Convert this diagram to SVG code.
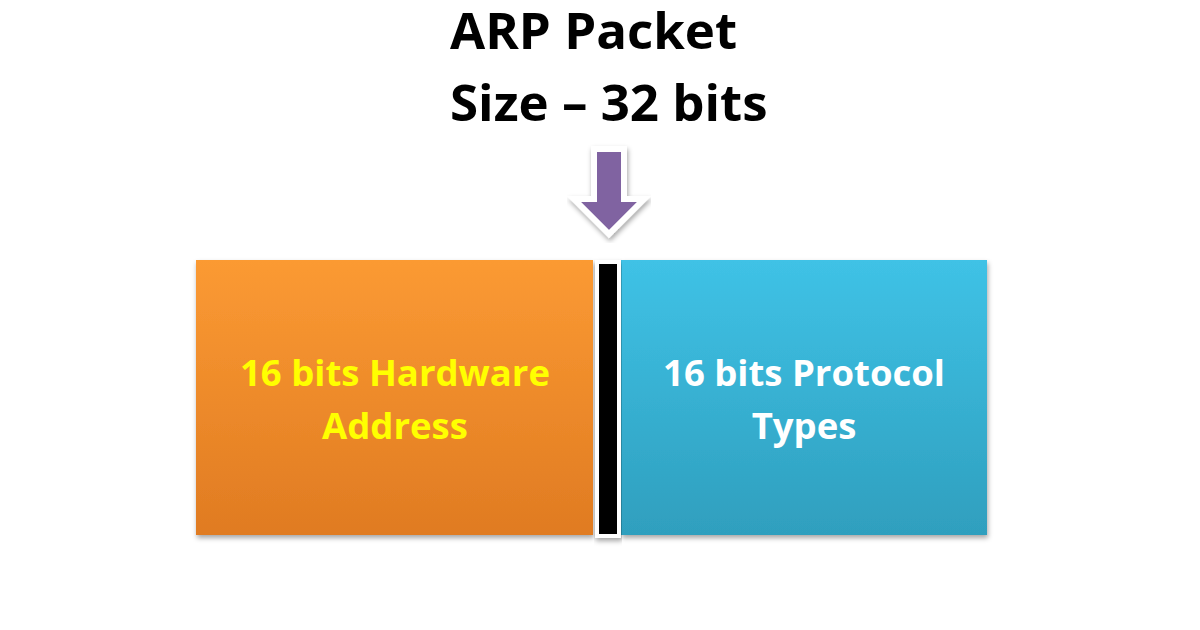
<svg xmlns="http://www.w3.org/2000/svg" width="1200" height="630" viewBox="0 0 1200 630">
<defs>
<linearGradient id="og" x1="0" y1="0" x2="0" y2="1"><stop offset="0" stop-color="#fb9a33"/><stop offset="1" stop-color="#e07b22"/></linearGradient>
<linearGradient id="tg" x1="0" y1="0" x2="0" y2="1"><stop offset="0" stop-color="#3fc2e6"/><stop offset="1" stop-color="#2f9fbe"/></linearGradient>
<filter id="sh" x="-10%" y="-10%" width="120%" height="120%"><feDropShadow dx="1" dy="3" stdDeviation="2.5" flood-color="#000" flood-opacity="0.35"/></filter>
<style>
.t{font-family:"Open Sans","Liberation Sans",sans-serif;font-weight:bold;}
.h{font-size:51px;fill:#000;}
.b{font-size:36.5px;text-anchor:middle;}
</style>
</defs>
<rect width="1200" height="630" fill="#fff"/>
<text class="t h" x="450" y="49">ARP Packet</text>
<text class="t h" x="450" y="121">Size – 32 bits</text>
<g id="arrow" filter="url(#sh)">
<polygon points="594,149 624,149 624,199 644,199 609,234 574,199 594,199" fill="#8063a1" stroke="#fff" stroke-width="6" stroke-linejoin="miter"/>
</g>
<g id="hw">
<rect x="196" y="260" width="397" height="275" fill="url(#og)" filter="url(#sh)"/>
<text class="t b" x="395" y="386" fill="#ffff00">16 bits Hardware</text>
<text class="t b" x="395" y="439" fill="#ffff00">Address</text>
</g>
<g id="proto">
<rect x="621" y="260" width="366" height="275" fill="url(#tg)" filter="url(#sh)"/>
<text class="t b" x="804" y="386" fill="#fff">16 bits Protocol</text>
<text class="t b" x="804" y="439" fill="#fff">Types</text>
</g>
<g id="divider">
<rect x="597" y="262" width="22" height="274" fill="#000" stroke="#fff" stroke-width="4" filter="url(#sh)"/>
</g>
<g id="connectors"/>
</svg>
